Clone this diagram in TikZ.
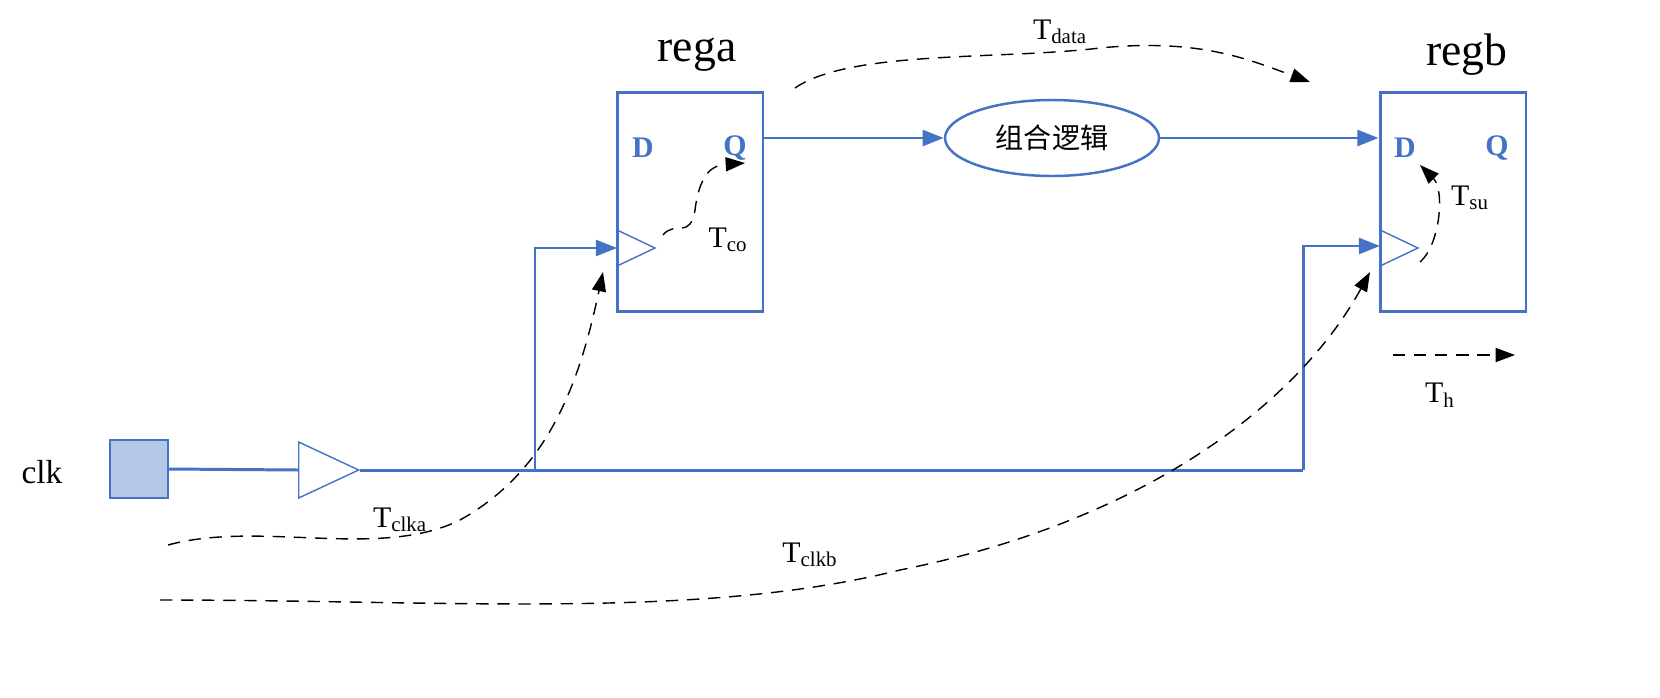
\documentclass[tikz,border=0pt]{standalone}
\usepackage{fontspec}
\setmainfont{Liberation Serif}
\newfontfamily\cjk{Noto Sans CJK SC}
\usetikzlibrary{positioning,shapes.geometric,arrows.meta}
\definecolor{wireblue}{HTML}{4472C4}
\definecolor{padblue}{HTML}{B4C7E7}
\begin{document}
\begin{tikzpicture}[x=0.02cm, y=-0.02cm]
    % Define styles
    \tikzset{
      wire/.style={draw=wireblue, line width=1.7pt},
      warrow/.style={wire, -{Triangle[length=12pt, width=9pt]}},
      reg/.style={rectangle, draw=wireblue, line width=1.7pt, minimum width=2.92cm, minimum height=4.38cm},
      pin/.style={text=wireblue, font=\fontsize{17}{17}\selectfont\bfseries},
      timing/.style={dashed, dash pattern=on 7pt off 5pt, -{Triangle[length=11pt, width=8pt]}, line width=0.8pt},
      tlabel/.style={font=\fontsize{17}{17}\selectfont},
      title/.style={font=\fontsize{26}{26}\selectfont}
    }
    \useasboundingbox (0,0) rectangle (1660,697);

    % Registers and logic
    \node[reg] (rega) at (690,202) {};
    \node[reg] (regb) at (1453,202) {};
    \node[title] (ranam) at (697,55) {rega};
    \node[title] (rbnam) at (1467,55) {regb};
    \node[pin] (da) at (643,148) {D};
    \node[pin] (qa) at (735,148) {Q};
    \node[pin] (db) at (1405,148) {D};
    \node[pin] (qb) at (1497,148) {Q};
    \node[ellipse, draw=wireblue, line width=1.4pt, minimum width=4.28cm, minimum height=1.52cm, font=\cjk\fontsize{16}{16}\selectfont] (logic) at (1052,138) {组合逻辑};
    \draw[draw=wireblue, line width=0.8pt] (617,230) -- (655,248) -- (617,266);
    \draw[draw=wireblue, line width=0.8pt] (1380,230) -- (1418,248) -- (1380,266);

    % Clock source
    \node[rectangle, draw=wireblue, fill=padblue, line width=0.8pt, minimum size=1.16cm] (pad) at (139,469) {};
    \node[font=\fontsize{19}{19}\selectfont] (clk) at (42,472) {clk};
    \node[isosceles triangle, isosceles triangle apex angle=50, draw=wireblue, line width=0.8pt, fill=white, minimum height=1.2cm, inner sep=0pt, anchor=west] (buf) at (298,470) {};

    % Connections
    \coordinate (ca) at (617,248);
    \coordinate (cb) at (1380,246);
    \coordinate (fork) at (535,470);
    \coordinate (bend) at (1303,470);
    \draw[wire] (pad.east) -- (buf.west);
    \draw[wire] (buf.apex) -- (bend);
    \draw[warrow] (fork) |- (ca);
    \draw[warrow] (bend) |- (cb);
    \draw[warrow] (rega.east |- 0,138) -- (logic.west);
    \draw[warrow] (logic.east) -- (regb.west |- 0,138);

    % Timing paths
    \coordinate (dd0) at (795,88);   \coordinate (dd1) at (1310,82);
    \coordinate (co0) at (663,235);  \coordinate (co1) at (745,163);
    \coordinate (ka0) at (168,545);  \coordinate (ka1) at (603,272);
    \coordinate (kb0) at (160,600);  \coordinate (kb1) at (1370,272);
    \coordinate (su0) at (1420,262); \coordinate (su1) at (1420,165);
    \coordinate (h0) at (1393,355);  \coordinate (h1) at (1515,355);
    \draw[timing] (dd0) .. controls (850,50) and (1000,60) .. (1100,48) .. controls (1200,38) and (1250,60) .. (dd1);
    \draw[timing] (co0) .. controls (675,220) and (690,240) .. (695,210) .. controls (700,170) and (715,165) .. (co1);
    \draw[timing] (ka0) .. controls (260,520) and (380,560) .. (460,520) .. controls (550,470) and (580,380) .. (ka1);
    \draw[timing] (kb0) .. controls (450,600) and (700,620) .. (900,570) .. controls (1150,520) and (1300,400) .. (kb1);
    \draw[timing] (su0) .. controls (1440,245) and (1445,190) .. (su1);
    \draw[timing] (h0) -- (h1);
    \node[tlabel] (tdata) at (1060,32) {T\textsubscript{data}};
    \node[tlabel] (tco) at (728,240) {T\textsubscript{co}};
    \node[tlabel] (tclka) at (400,520) {T\textsubscript{clka}};
    \node[tlabel] (tclkb) at (810,555) {T\textsubscript{clkb}};
    \node[tlabel] (tsu) at (1470,198) {T\textsubscript{su}};
    \node[tlabel] (th) at (1440,395) {T\textsubscript{h}};
\end{tikzpicture}
\end{document}
